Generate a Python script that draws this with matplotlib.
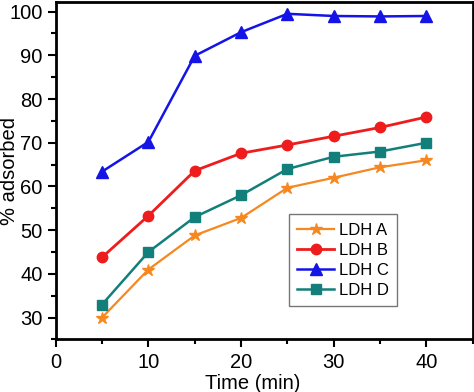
import numpy as np
import matplotlib.pyplot as plt
from matplotlib.ticker import MultipleLocator

plt.rcParams['font.family'] = ['Liberation Sans', 'DejaVu Sans']

time = [5, 10, 15, 20, 25, 30, 35, 40]
ldh_a = [30.0, 41.0, 48.8, 52.8, 59.7, 62.0, 64.4, 66.0]
ldh_b = [43.8, 53.3, 63.6, 67.6, 69.5, 71.5, 73.5, 75.9]
ldh_c = [63.4, 70.2, 89.9, 95.3, 99.5, 99.0, 98.9, 99.0]
ldh_d = [33.0, 45.0, 53.0, 58.0, 64.0, 66.8, 68.0, 70.0]
labels = ['LDH A', 'LDH B', 'LDH C', 'LDH D']

fig = plt.figure(figsize=(4.74, 3.92), dpi=100)
ax = fig.add_axes([0.1175, 0.134, 0.88, 0.862])

ax.plot(time, ldh_a, color='#f7871f', marker='*', markersize=9, lw=1.6, label=labels[0])
ax.plot(time, ldh_b, color='#ee1c1c', marker='o', markersize=7.5, lw=2, label=labels[1])
ax.plot(time, ldh_c, color='#1414e6', marker='^', markersize=8, lw=1.8, label=labels[2])
ax.plot(time, ldh_d, color='#137f7a', marker='s', markersize=6.5, lw=1.8, label=labels[3])

ax.set_xlim(0, 45)
ax.set_ylim(25, 102.3)
ax.xaxis.set_major_locator(MultipleLocator(10))
ax.xaxis.set_minor_locator(MultipleLocator(5))
ax.yaxis.set_minor_locator(MultipleLocator(5))
ax.set_yticks(np.arange(30, 101, 10))
ax.tick_params(which='major', direction='out', length=6, width=1.5, labelsize=14.5)
ax.tick_params(which='minor', direction='out', length=3.5, width=1.5)
ax.tick_params(top=False, right=False)
for s in ax.spines.values():
    s.set_linewidth(2)

ax.set_xlabel('Time (min)', fontsize=14.5)
ax.xaxis.set_label_coords(0.472, -0.102)
ax.set_ylabel('% adsorbed', fontsize=14.5)
ax.yaxis.set_label_coords(-0.087, 0.5)

leg = ax.legend(loc='lower right', bbox_to_anchor=(0.819, 0.099), fontsize=12,
                fancybox=False, edgecolor='#555555', handlelength=2.2,
                handletextpad=0.3, borderpad=0.5, labelspacing=0.3,
                borderaxespad=0)
leg.get_frame().set_linewidth(1)

fig.savefig('out.png', dpi=100)
